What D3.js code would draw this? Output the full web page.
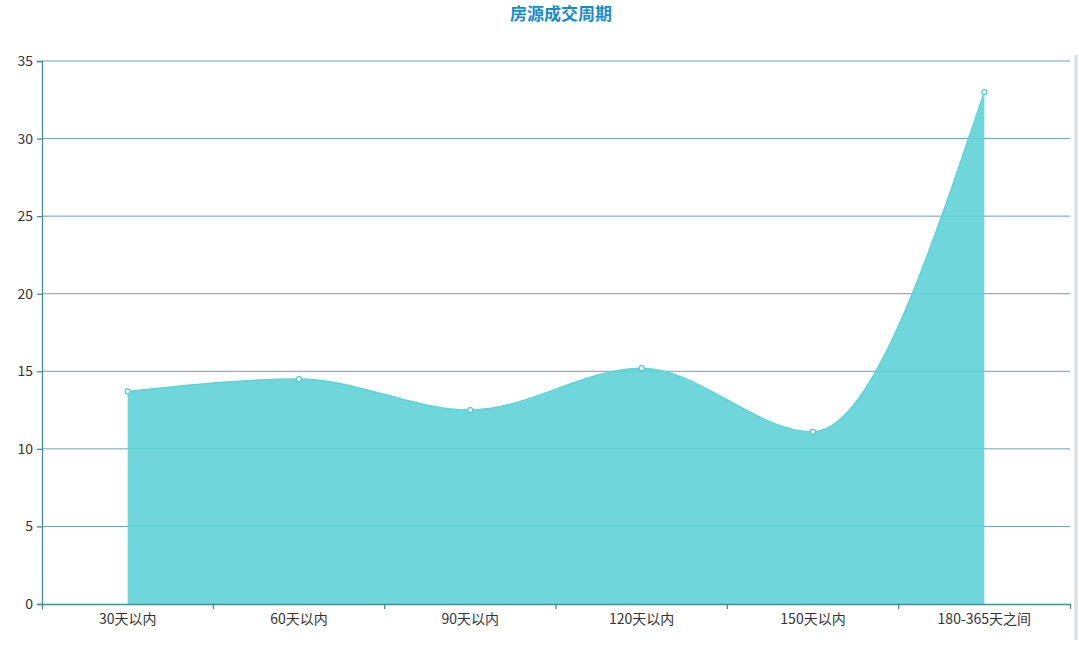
<!DOCTYPE html>
<html><head><meta charset="utf-8">
<script src="https://cdn.jsdelivr.net/npm/d3@7/dist/d3.min.js"></script>
<style>body{margin:0;background:#fff;font-family:"Microsoft YaHei","Noto Sans CJK SC",sans-serif;}</style>
</head><body><div id="chart"></div>
<script>
var categories = ["30天以内", "60天以内", "90天以内", "120天以内", "150天以内", "180-365天之间"];
var values = [13.7, 14.5, 12.5, 15.2, 11.1, 33];
var yTicks = [0, 5, 10, 15, 20, 25, 30, 35];

var width = 1079, height = 657;
var svg = d3.select("#chart").append("svg").attr("width", width).attr("height", height);

var x = d3.scaleBand().domain(categories).range([42, 1070]);
var y = d3.scaleLinear().domain([0, 35]).range([604, 61]);
var axisColor = "#4a8a99";

svg.append("text").attr("x", 561).attr("y", 20).attr("text-anchor", "middle")
    .attr("font-size", 17).attr("font-weight", "bold").attr("fill", "#1a8ad0")
    .text("房源成交周期");

// right edge bar
svg.append("rect").attr("x", 1074).attr("y", 55).attr("width", 4).attr("height", 585).attr("fill", "#e0e3ea");

svg.append("g").selectAll("line").data(yTicks.slice(1)).enter().append("line")
    .attr("x1", 42).attr("x2", 1070).attr("y1", function(d){ return y(d); }).attr("y2", function(d){ return y(d); })
    .attr("stroke", axisColor).attr("stroke-opacity", 0.8);

var cx = function(d, i){ return x(categories[i]) + x.bandwidth() / 2; };
var curve = d3.curveMonotoneX;
var area = d3.area().x(cx).y0(y(0)).y1(function(d){ return y(d); }).curve(curve);
svg.append("path").datum(values).attr("d", area).attr("fill", "#5fd3d7").attr("fill-opacity", 0.9);
var line = d3.line().x(cx).y(function(d){ return y(d); }).curve(curve);
svg.append("path").datum(values).attr("d", line).attr("fill", "none").attr("stroke", "#5fd3d7").attr("stroke-width", 1.5);

svg.append("g").selectAll("circle").data(values).enter().append("circle")
    .attr("cx", cx).attr("cy", function(d){ return y(d); }).attr("r", 2.5)
    .attr("fill", "#fff").attr("stroke", "#4ecbd0").attr("stroke-width", 1.2);

var ya = svg.append("g").attr("transform", "translate(42,0)")
    .call(d3.axisLeft(y).tickValues(yTicks).tickSize(5).tickPadding(4));
var xa = svg.append("g").attr("transform", "translate(0,604)")
    .call(d3.axisBottom(x).tickSize(5).tickPadding(5).tickSizeOuter(5));
[ya, xa].forEach(function(a){
  a.selectAll("path,line").attr("stroke", axisColor).attr("stroke-width", 1.3);
  a.selectAll("text").attr("fill", "#333").attr("font-size", 14).attr("font-family", "\"Microsoft YaHei\",\"Noto Sans CJK SC\",sans-serif");
});
// ticks at band boundaries on x axis
xa.selectAll(".tick line").remove();
xa.selectAll(".bnd").data(categories.slice(1)).enter().append("line")
    .attr("x1", function(d){ return x(d); }).attr("x2", function(d){ return x(d); })
    .attr("y1", 0).attr("y2", 5).attr("stroke", axisColor).attr("stroke-width", 1.3);
</script></body></html>
